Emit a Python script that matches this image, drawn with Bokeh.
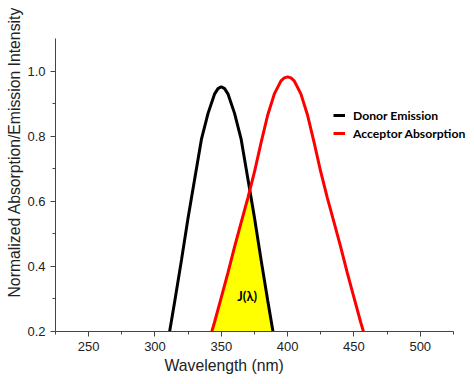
import numpy as np
from bokeh.plotting import figure
from bokeh.models import (Range1d, FixedTicker, PrintfTickFormatter, Label,
                          Legend, LegendItem, Title)
from bokeh.embed import file_html
from bokeh.resources import INLINE

# ---- data ----
donor_wl = [305, 310, 315, 320, 325, 330, 335, 340, 345, 347.5, 350,
            352.5, 355, 360, 365, 370, 375, 380, 385, 390, 395]
donor_val = [0.08, 0.175, 0.295, 0.42, 0.55, 0.67, 0.79, 0.87, 0.93, 0.946, 0.952,
             0.946, 0.93, 0.87, 0.79, 0.67, 0.55, 0.42, 0.295, 0.175, 0.08]

acceptor_wl = [335, 340, 345, 350, 355, 360, 365, 370, 375, 380, 385, 390, 395,
               397.5, 400, 402.5, 405, 410, 415, 420, 425, 430, 435, 440, 445,
               450, 455, 460, 465]
acceptor_val = [0.10, 0.16, 0.23, 0.305, 0.38, 0.46, 0.535, 0.61, 0.69, 0.78, 0.865, 0.93, 0.97,
                0.979, 0.982, 0.979, 0.97, 0.93, 0.865, 0.78, 0.69, 0.61, 0.535, 0.46, 0.38,
                0.305, 0.23, 0.16, 0.10]

x_ticks = [250, 300, 350, 400, 450, 500]
x_minor = [225, 275, 325, 375, 425, 475, 525]
y_ticks = [0.2, 0.4, 0.6, 0.8, 1.0]
y_minor = [0.3, 0.5, 0.7, 0.9]

series_names = ["Donor Emission", "Acceptor Absorption"]
overlap_label = "J(λ)"
x_title = "Wavelength (nm)"
y_title = "Normalized Absorption/Emission Intensity"

Y_BASE = 0.2
X_AXIS_END = 525

p = figure(width=474, height=384, output_backend="svg", toolbar_location=None,
           x_range=Range1d(225, 540.9), y_range=Range1d(0.2, 1.1),
           min_border_left=55, min_border_right=0, min_border_top=38,
           min_border_bottom=53)
p.outline_line_color = None
p.xgrid.visible = False
p.ygrid.visible = False
p.background_fill_color = "white"
p.border_fill_color = "white"

# overlap area between the two drawn curves
lo = max(min(donor_wl), min(acceptor_wl))
hi = min(max(donor_wl), max(acceptor_wl))
xf = np.linspace(lo, hi, 1201)
d_i = np.interp(xf, donor_wl, donor_val)
a_i = np.interp(xf, acceptor_wl, acceptor_val)
top = np.maximum(np.minimum(d_i, a_i), Y_BASE)
p.varea(x=xf, y1=np.full_like(xf, Y_BASE), y2=top, fill_color="#ffff00")

r_d = p.line(donor_wl, donor_val, line_color="black", line_width=3)
r_a = p.line(acceptor_wl, acceptor_val, line_color="#ff0000", line_width=3)

legend = Legend(items=[LegendItem(label=series_names[0], renderers=[r_d]),
                       LegendItem(label=series_names[1], renderers=[r_a])],
                location=(278, 190), padding=0, margin=0, spacing=2,
                label_height=16, glyph_height=16, glyph_width=12,
                label_standoff=8, border_line_color=None,
                background_fill_alpha=0,
                label_text_font="Lato", label_text_font_style="bold",
                label_text_font_size="12.2px", label_text_color="black")
p.add_layout(legend)

p.add_layout(Label(x=369.5, y=0.308, text=overlap_label, text_align="center",
                   text_baseline="middle", text_font="Lato",
                   text_font_style="bold", text_font_size="13px",
                   text_color="black"))

for ax in (p.xaxis[0], p.yaxis[0]):
    ax.axis_line_color = "#444444"
    ax.axis_line_width = 1
    ax.major_tick_line_color = "#444444"
    ax.minor_tick_line_color = "#444444"
    ax.major_tick_in = 0
    ax.major_tick_out = 5
    ax.minor_tick_in = 0
    ax.minor_tick_out = 3
    ax.major_label_text_font = "Liberation Sans"
    ax.major_label_text_font_size = "13px"
    ax.major_label_text_color = "#222222"
    ax.major_label_standoff = 5

p.xaxis[0].bounds = (225, X_AXIS_END)
p.xaxis[0].ticker = FixedTicker(ticks=x_ticks, minor_ticks=x_minor)
p.yaxis[0].ticker = FixedTicker(ticks=y_ticks, minor_ticks=y_minor)
p.yaxis[0].formatter = PrintfTickFormatter(format="%.1f")

# axis titles (offset from the frame centre like the reference)
p.add_layout(Title(text=x_title, align="left", offset=109, standoff=7,
                   vertical_align="top",
                   text_font="Liberation Sans", text_font_size="15.75px",
                   text_font_style="normal", text_color="#222222"), "below")
p.add_layout(Title(text=y_title, align="left", offset=34, standoff=3,
                   text_font="Liberation Sans", text_font_size="15.75px",
                   text_font_style="normal", text_color="#222222"), "left")

open("out.html", "w").write(file_html(p, INLINE))
